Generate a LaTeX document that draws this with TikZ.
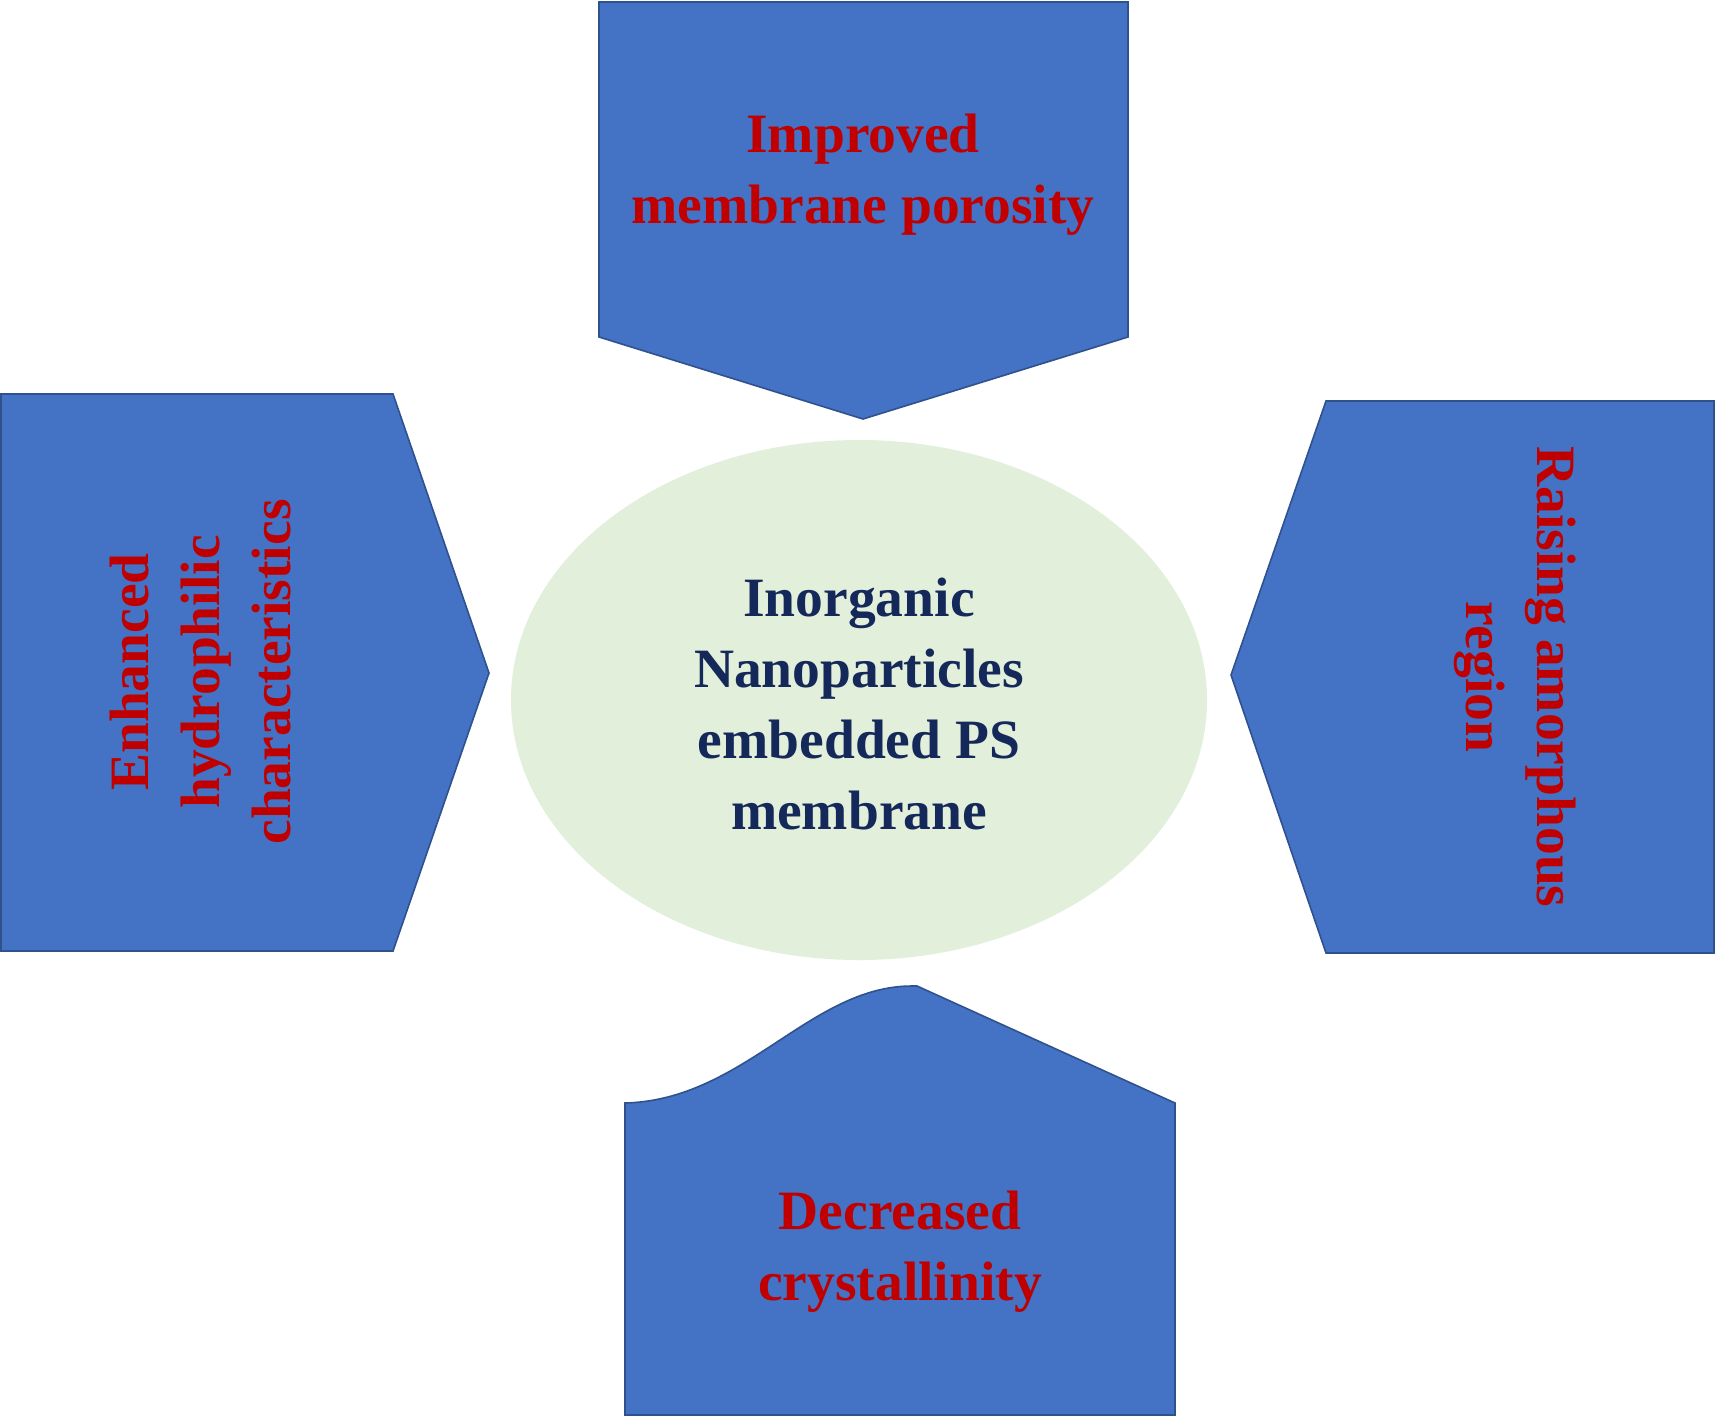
\documentclass[tikz,border=0pt]{standalone}
\usepackage{fontspec}
\setmainfont{Liberation Serif}
\usetikzlibrary{shapes.geometric}
\definecolor{boxblue}{HTML}{4472C4}
\definecolor{boxline}{HTML}{2F528F}
\definecolor{redtxt}{HTML}{C00000}
\definecolor{navytxt}{HTML}{14285A}
\definecolor{lightgreen}{HTML}{E2EFDA}
\tikzset{
  shapebox/.style={fill=boxblue, draw=boxline, line width=0.8pt, line join=miter},
  redlabel/.style={text=redtxt, align=center, inner sep=0pt,
    font=\fontsize{27.75pt}{35.5pt}\selectfont\bfseries},
  centerlabel/.style={text=navytxt, align=center,
    font=\fontsize{27.75pt}{35.5pt}\selectfont\bfseries},
}
\begin{document}
\begin{tikzpicture}[x=0.5pt,y=-0.5pt]
\fill[white] (0,0) rectangle (1716,1419);
\useasboundingbox (0,0) rectangle (1716,1419);
% top pentagon
\draw[shapebox] (599,2) -- (1128,2) -- (1128,337) -- (863,419) -- (599,337) -- cycle;
% left pentagon
\draw[shapebox] (1,394) -- (393,394) -- (489,673) -- (393,951) -- (1,951) -- cycle;
% right pentagon
\draw[shapebox] (1714,401) -- (1714,953) -- (1326,953) -- (1231,675) -- (1326,401) -- cycle;
% bottom shape
\draw[shapebox] (625,1415) -- (625,1103) .. controls (744,1100) and (810,986) .. (912,986)
  -- (917,986) -- (1175,1103) -- (1175,1415) -- cycle;
% central ellipse
\node[ellipse, fill=lightgreen, inner sep=0pt, minimum width=348pt, minimum height=260pt,
  centerlabel] (c) at (859,700) {};
\node[centerlabel] (ct) at (859,704) {Inorganic\\Nanoparticles\\embedded PS\\membrane};
% labels
\node[redlabel] (t) at (863,175) {Improved\\membrane porosity};
\node[redlabel] (b) at (900,1252) {Decreased\\crystallinity};
\node[redlabel, rotate=90] (l) at (201,672) {Enhanced\\hydrophilic\\characteristics};
\node[redlabel, rotate=-90] (r) at (1515,677) {Raising amorphous\\region};
\end{tikzpicture}
\end{document}
